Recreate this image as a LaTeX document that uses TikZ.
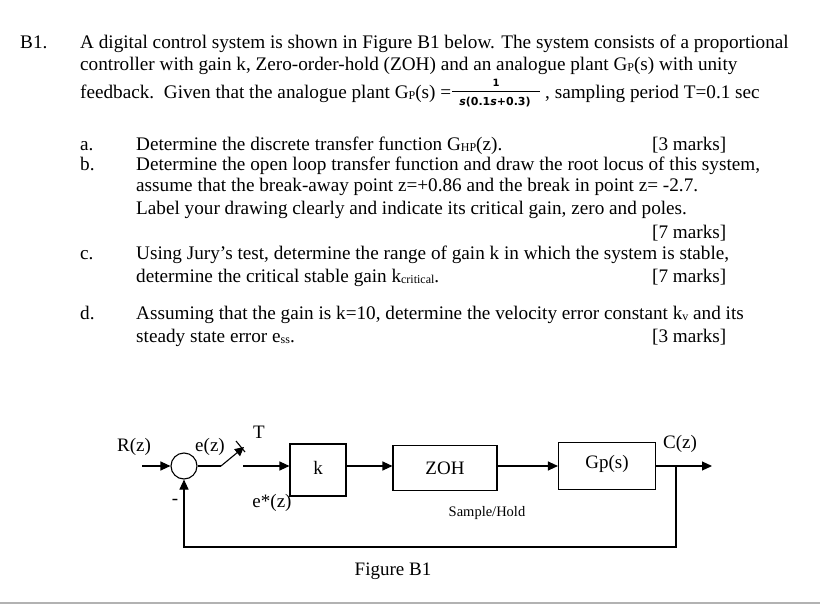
\documentclass[tikz,border=0pt]{standalone}
\usepackage{fontspec}
\setmainfont{Liberation Serif}
\newfontfamily\fr{DejaVu Sans}
\usetikzlibrary{arrows.meta}
\newcommand{\sub}[1]{\raisebox{-0.2ex}{\fontsize{12}{12}\selectfont #1}}
\begin{document}
\begin{tikzpicture}[x=1pt,y=-1pt,
  txt/.style={anchor=base west,inner sep=0pt,font=\fontsize{19.2}{21}\selectfont},
  lbl/.style={inner sep=0pt,font=\fontsize{19}{21}\selectfont},
  blk/.style={draw,line width=1.1pt,inner sep=0pt},
  ln/.style={line width=1.1pt},
  ar/.style={line width=1.1pt,-{Triangle[length=10pt,width=9pt]}}]
\useasboundingbox (0,0) rectangle (820,605);
\fill[white] (0,0) rectangle (820,605);
\draw[gray!60,line width=2pt] (0,603) -- (820,603);
% text
\node[txt] (b1) at (20,48) {B1.};
\node[txt] (l1) at (80,48) {A digital control system is shown in Figure B1 below. The system consists of a proportional};
\node[txt] (l2) at (80,70) {controller with gain k, Zero-order-hold (ZOH) and an analogue plant G\sub{P}(s) with unity};
\node[txt] (l3) at (80,98) {feedback.\ \ Given that the analogue plant G\sub{P}(s) =};
\node[inner sep=0pt,font=\fr\bfseries\fontsize{10}{10}\selectfont] (num) at (496,83) {1};
\draw[line width=1pt] (452,91) -- (540,91);
\node[inner sep=0pt,font=\fr\bfseries\fontsize{11}{11}\selectfont] (den) at (495,102) {\itshape s\upshape(0.1\itshape s\upshape+0.3)};
\node[txt] (l3b) at (545,98) {, sampling period T=0.1 sec};
\node[txt] (a) at (80,150) {a.};
\node[txt] (at) at (136,150) {Determine the discrete transfer function G\sub{HP}(z).};
\node[txt] (am) at (652,150) {[3 marks]};
\node[txt] (b) at (80,170) {b.};
\node[txt] (bt1) at (136,170) {Determine the open loop transfer function and draw the root locus of this system,};
\node[txt] (bt2) at (136,191) {assume that the break-away point z=+0.86 and the break in point z= -2.7.};
\node[txt] (bt3) at (136,214) {Label your drawing clearly and indicate its critical gain, zero and poles.};
\node[txt] (bm) at (652,238) {[7 marks]};
\node[txt] (c) at (80,259) {c.};
\node[txt] (ct1) at (136,259) {Using Jury's test, determine the range of gain k in which the system is stable,};
\node[txt] (ct2) at (136,282) {determine the critical stable gain k\sub{critical}.};
\node[txt] (cm) at (652,282) {[7 marks]};
\node[txt] (d) at (80,319) {d.};
\node[txt] (dt1) at (136,319) {Assuming that the gain is k=10, determine the velocity error constant k\sub{v} and its};
\node[txt] (dt2) at (136,342) {steady state error e\sub{ss}.};
\node[txt] (dm) at (652,342) {[3 marks]};
% diagram
\node[draw,line width=1.1pt,circle,minimum size=26pt,inner sep=0pt] (sum) at (184,466) {};
\coordinate (in) at (142,466);
\draw[ar] (in) -- (sum.west);
\coordinate (s1) at (221,466);
\coordinate (s2) at (244,447);
\draw[ln] (sum.east) -- (s1);
\draw[line width=1.1pt,-{Triangle[length=9pt,width=9pt]}] (s1) -- (s2);
\draw[line width=1.1pt] (236,441) -- (245,452);
\node[blk,minimum width=56pt,minimum height=52pt] (k) at (318,470) {};
\node[lbl] (kl) at (318,468) {k};
\coordinate (s3) at (243,466);
\draw[ar] (s3) -- (k.west |- s3);
\node[blk,minimum width=104pt,minimum height=45pt] (zoh) at (445,468) {};
\node[lbl] (zl) at (445,468) {ZOH};
\draw[ar] (k.east |- s3) -- (zoh.west |- s3);
\node[blk,minimum width=97pt,minimum height=47pt] (gp) at (607,466) {};
\node[lbl] (gl) at (607,464) {Gp(s)};
\draw[ar] (zoh.east |- s3) -- (gp.west |- s3);
\coordinate (tap) at (676,466);
\coordinate (out) at (712,466);
\draw[ar] (gp.east |- s3) -- (out);
\coordinate (fb1) at (676,547);
\coordinate (fb2) at (184,547);
\draw[ar] (tap) -- (fb1) -- (fb2) -- (sum.south);
\node[lbl] (R) at (134,447) {R(z)};
\node[lbl] (e) at (210,447) {e(z)};
\node[lbl] (T) at (259,432) {T};
\node[lbl] (C) at (680,444) {C(z)};
\node[lbl] (m) at (175,502) {-};
\node[lbl] (es) at (272,503) {e*(z)};
\node[inner sep=0pt,font=\fontsize{14.5}{15}\selectfont] (sh) at (487,513) {Sample/Hold};
\node[lbl] (fig) at (393,571) {Figure B1};
\end{tikzpicture}
\end{document}
